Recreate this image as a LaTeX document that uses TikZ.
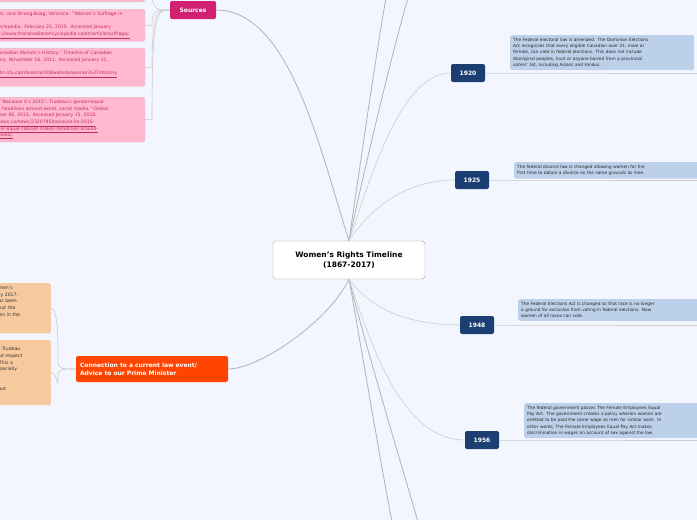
\documentclass[tikz,border=0pt]{standalone}
\usepackage{fontspec}
\setmainfont{DejaVu Sans}
\begin{document}
\begin{tikzpicture}[x=1pt,y=-1pt,
  conn/.style={draw=black!30,line width=0.8pt},
  thin/.style={draw=black!20,line width=0.6pt},
  year/.style={fill=yearblue,rounded corners=2pt,text=white,font=\bfseries\fontsize{6}{7}\selectfont,minimum width=34pt,minimum height=18pt,inner sep=0pt},
  bluebox/.style={fill=boxblue,rounded corners=1.5pt,font=\fontsize{4.3}{6.2}\selectfont,align=left,inner sep=3pt,anchor=north west,text=black!85},
  pinkbox/.style={fill=pinkc,draw=pinkc!80!black!60,line width=0.3pt,rounded corners=2pt,font=\fontsize{4.6}{6.6}\selectfont,align=left,inner sep=3pt,text=srcred},
  orbox/.style={fill=orc,rounded corners=2pt,font=\fontsize{4.6}{6.6}\selectfont,align=center,inner sep=3pt,text=black!80}]
\definecolor{yearblue}{HTML}{1B3F73}
\definecolor{boxblue}{HTML}{BCD0EA}
\definecolor{pinkc}{HTML}{FFB8D0}
\definecolor{srcred}{HTML}{C0305A}
\definecolor{orc}{HTML}{F7C99E}
\definecolor{magc}{HTML}{D11F72}
\definecolor{redc}{HTML}{FF4500}
\definecolor{bgc}{HTML}{F3F6FE}
\useasboundingbox (0,0) rectangle (697,520);
\fill[bgc] (0,0) rectangle (697,520);
\clip (0,0) rectangle (697,520);

% center
\node[draw=black!40,fill=white,rounded corners=3pt,minimum width=152pt,minimum height=38pt,align=center,font=\bfseries\fontsize{7.5}{10}\selectfont] (c) at (349,260) {Women's Rights Timeline\\(1867-2017)};

% off-canvas branches
\coordinate (t1) at (386,-2); \coordinate (t2) at (408,-2);
\coordinate (b1) at (392,522); \coordinate (b2) at (418,522);
\draw[conn] (c.north) .. controls (358,180) and (375,60) .. (t1);
\draw[conn] (c.north) .. controls (362,180) and (390,60) .. (t2);
\draw[conn] (c.south) .. controls (360,340) and (380,460) .. (b1);
\draw[conn] (c.south) .. controls (364,340) and (400,460) .. (b2);

% Sources
\node[fill=magc,rounded corners=2pt,text=white,font=\bfseries\fontsize{6}{7}\selectfont,minimum width=46pt,minimum height=18pt,inner sep=0pt] (src) at (193,10) {Sources};
\draw[conn] (c.north) .. controls (320,150) and (290,10) .. (src.east);
\node[pinkbox,anchor=north east,minimum width=165pt] (s0) at (145,-20) {x\\x\\x};
\node[pinkbox,anchor=north east,text width=175pt] (s1) at (145,9) {Marsh, James H., and Strong-Boag, Veronica. "Women's Suffrage in Canada." The\\ Canadian Encyclopedia. February 25, 2015. Accessed January\\ 11, 2018. \underline{http://www.thecanadianencyclopedia.ca/en/article/suffrage/.}};
\node[pinkbox,anchor=north east,text width=175pt] (s2) at (145,48) {"Timeline of Canadian Women's History." Timeline of Canadian\\ Women's History. November 16, 2012. Accessed January 11,\\ 2018.\\ \underline{http://www.cwhn.sfu.ca/nforesite/308website/women\%27shistory}\\ \underline{/timeline.html.}};
\node[pinkbox,anchor=north east,text width=175pt] (s3) at (145,97) {Kirkup, Kristy. "Because it's 2015': Trudeau's gender-equal\\ cabinet makes headlines around world, social media." Global\\ News. November 06, 2015. Accessed January 15, 2018.\\ \underline{https://globalnews.ca/news/2320795/because-its-2015-}\\ \underline{trudeaus-gender-equal-cabinet-makes-headlines-around-}\\ \underline{world-social-media/.}};
\foreach \s in {s0,s1,s2,s3}
  \draw[thin] (src.west) .. controls (157,10) and (152,10) .. (152,10 |- \s.east) -- (\s.east);
\draw[thin] (s0.east) -- (146,-1);

% Connection
\node[fill=redc,rounded corners=2pt,text=white,font=\bfseries\fontsize{6}{8.4}\selectfont,align=left,minimum width=152pt,minimum height=26pt,inner sep=4pt,text width=144pt] (cx) at (152,369) {Connection to a current law event/\\Advice to our Prime Minister};
\draw[conn] (c.south) .. controls (330,320) and (260,369) .. (cx.east);
\node[orbox,anchor=north east,text width=140pt,minimum height=50pt] (o1) at (51,283) {In January 2017, the Women's\\ March took place on January 2017.\\ It was a movement that has been\\ spread and held through out the\\ world to make sure all women in the\\ world have these\\ rights.};
\node[orbox,anchor=north east,text width=140pt,minimum height=65pt] (o2) at (51,340) {As our Prime Minister, Justin Trudeau\\ ensures women's benefits and respect\\ (gender-equal cabinet). This a\\ great step in the same, especially\\ strictness\\ Trudeau himself\\ should learn more about\\ violence among};
\draw[thin] (cx.west) .. controls (62,369) and (58,369) .. (58,362) .. controls (58,340) and (58,308) .. (o1.east);
\draw[thin] (cx.west) .. controls (62,369) and (58,369) .. (58,375) .. controls (58,395) and (58,372) .. (o2.east);

% Years
\node[year] (y1) at (468,73) {1920};
\node[year] (y2) at (472,180) {1925};
\node[year] (y3) at (477,325) {1948};
\node[year] (y4) at (482,440) {1956};
\draw[thin] (c.north) .. controls (370,180) and (400,73) .. (y1.west);
\draw[thin] (c.north) .. controls (375,200) and (415,180) .. (y2.west);
\draw[thin] (c.south) .. controls (375,315) and (420,325) .. (y3.west);
\draw[thin] (c.south) .. controls (370,340) and (400,440) .. (y4.west);

\node[bluebox,text width=178pt] (d1) at (510,35) {The Federal electoral law is amended. The Dominion Elections\\ Act recognizes that every eligible Canadian over 21, male or\\ female, can vote in federal elections. This does not include\\ Aboriginal peoples, Inuit or anyone barred from a provincial\\ voters' list, including Asians and Hindus.};
\node[bluebox,text width=182pt] (d2) at (514,162) {The federal divorce law is changed allowing women for the\\ first time to obtain a divorce on the same grounds as men.};
\node[bluebox,text width=182pt] (d3) at (518,299) {The Federal Elections Act is changed so that race is no longer\\ a ground for exclusion from voting in federal elections. Now\\ women of all races can vote.};
\node[bluebox,text width=182pt] (d4) at (524,403) {The federal government passes The Female Employees Equal\\ Pay Act. The government creates a policy wherein women are\\ entitled to be paid the same wage as men for similar work. In\\ other words, The Female Employees Equal Pay Act makes\\ discrimination in wages on account of sex against the law};
\foreach \y/\d in {y1/d1,y2/d2,y3/d3,y4/d4}
  \draw[thin] (\y.east) -- (\y.east -| \d.south west) -- ++(200,0);
\end{tikzpicture}
\end{document}
